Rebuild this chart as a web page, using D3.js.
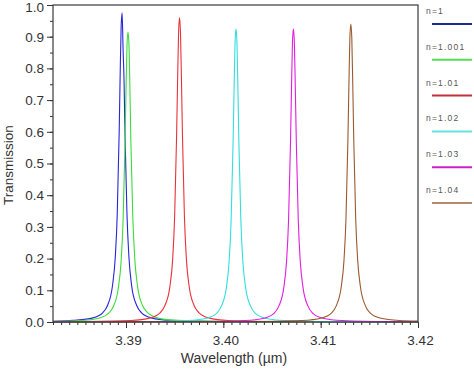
<!DOCTYPE html>
<html>
<head>
<meta charset="utf-8">
<script src="https://cdn.jsdelivr.net/npm/d3@7"></script>
<style>
  body { margin: 0; background: #fff; }
  svg { display: block; font-family: "Liberation Sans", Arial, sans-serif; }
</style>
</head>
<body>
<script>
// series labels and colours
var labels = ["n=1", "n=1.001", "n=1.01", "n=1.02", "n=1.03", "n=1.04"];
var colors = ["#2626dc", "#3cdc3c", "#e8323a", "#33dede", "#e01ee0", "#9a5a2e"];
var legendColors = ["#1c2a8c", "#55dd55", "#c4303c", "#66e2e2", "#cc22cc", "#b58a6a"];

// wavelength (um) / transmission pairs
var wl1 = [3.3825, 3.3846, 3.3866, 3.3876, 3.3881, 3.3886, 3.3889, 3.3891, 3.3893, 3.3894, 3.3895, 3.3896, 3.3897, 3.3898, 3.3899, 3.3901, 3.3903, 3.3906, 3.3911, 3.3916, 3.3926, 3.3946, 3.3996, 3.4200];
var tr1 = [0.002, 0.005, 0.013, 0.029, 0.052, 0.112, 0.205, 0.34, 0.60, 0.78, 0.93, 0.975, 0.86, 0.76, 0.59, 0.34, 0.205, 0.11, 0.052, 0.029, 0.013, 0.005, 0.0012, 0.0003];

var wl2 = [3.3825, 3.3852, 3.3872, 3.3882, 3.3887, 3.3892, 3.3895, 3.3897, 3.3899, 3.3900, 3.3901, 3.3902, 3.3903, 3.3904, 3.3905, 3.3907, 3.3909, 3.3912, 3.3917, 3.3922, 3.3932, 3.3952, 3.4002, 3.4200];
var tr2 = [0.002, 0.0045, 0.012, 0.027, 0.049, 0.105, 0.192, 0.32, 0.56, 0.73, 0.87, 0.915, 0.88, 0.74, 0.57, 0.33, 0.20, 0.11, 0.052, 0.03, 0.013, 0.005, 0.0012, 0.0003];

var wl3 = [3.3825, 3.3855, 3.3905, 3.3925, 3.3935, 3.3940, 3.3945, 3.3948, 3.3950, 3.3952, 3.3953, 3.3954, 3.3955, 3.3956, 3.3957, 3.3958, 3.3960, 3.3962, 3.3965, 3.3970, 3.3975, 3.3985, 3.4005, 3.4055, 3.4200];
var tr3 = [0.0005, 0.0012, 0.0048, 0.013, 0.029, 0.052, 0.11, 0.20, 0.335, 0.59, 0.76, 0.91, 0.960, 0.91, 0.76, 0.59, 0.335, 0.20, 0.11, 0.052, 0.029, 0.013, 0.0048, 0.0012, 0.0004];

var wl4 = [3.3825, 3.3913, 3.3963, 3.3983, 3.3993, 3.3998, 3.4003, 3.4006, 3.4008, 3.4010, 3.4011, 3.4012, 3.4013, 3.4014, 3.4015, 3.4016, 3.4018, 3.4020, 3.4023, 3.4028, 3.4033, 3.4043, 3.4063, 3.4113, 3.4200];
var tr4 = [0.0003, 0.0011, 0.0045, 0.012, 0.027, 0.05, 0.106, 0.193, 0.32, 0.565, 0.73, 0.88, 0.925, 0.88, 0.73, 0.565, 0.32, 0.193, 0.106, 0.05, 0.027, 0.012, 0.0045, 0.0011, 0.0005];

var wl5 = [3.3825, 3.3972, 3.4022, 3.4042, 3.4052, 3.4057, 3.4062, 3.4065, 3.4067, 3.4069, 3.4070, 3.4071, 3.4072, 3.4073, 3.4074, 3.4075, 3.4077, 3.4079, 3.4082, 3.4087, 3.4092, 3.4102, 3.4122, 3.4172, 3.4200];
var tr5 = [0.0003, 0.0011, 0.0045, 0.012, 0.027, 0.05, 0.106, 0.193, 0.32, 0.565, 0.73, 0.88, 0.925, 0.88, 0.73, 0.565, 0.32, 0.193, 0.106, 0.05, 0.027, 0.012, 0.0045, 0.0011, 0.0008];

var wl6 = [3.3825, 3.4031, 3.4081, 3.4101, 3.4111, 3.4116, 3.4121, 3.4124, 3.4126, 3.4128, 3.4129, 3.4130, 3.4131, 3.4132, 3.4133, 3.4134, 3.4136, 3.4138, 3.4141, 3.4146, 3.4151, 3.4161, 3.4181, 3.4200];
var tr6 = [0.0002, 0.0011, 0.0046, 0.0126, 0.028, 0.051, 0.108, 0.196, 0.325, 0.575, 0.745, 0.895, 0.94, 0.895, 0.745, 0.575, 0.325, 0.196, 0.108, 0.051, 0.028, 0.0126, 0.0046, 0.0028];

var xTicks = [3.39, 3.40, 3.41, 3.42];
var yTicks = [0.0, 0.1, 0.2, 0.3, 0.4, 0.5, 0.6, 0.7, 0.8, 0.9, 1.0];

var wls = [wl1, wl2, wl3, wl4, wl5, wl6];
var trs = [tr1, tr2, tr3, tr4, tr5, tr6];

var width = 474, height = 372;
var padL = 53, padR = 418, padT = 5, padB = 322;

var svg = d3.select("body").append("svg")
    .attr("width", width)
    .attr("height", height);

var x = d3.scaleLinear().domain([3.3825, 3.42]).range([padL, padR]);
var y = d3.scaleLinear().domain([0, 1]).range([padB, padT]);

//curves
var line = d3.line()
    .x(d => x(d[0]))
    .y(d => y(d[1]))
    .curve(d3.curveMonotoneX);

var plot = svg.append("g");
plot.append("defs").append("clipPath").attr("id", "clip")
    .append("rect").attr("x", padL).attr("y", padT - 2).attr("width", padR - padL).attr("height", padB - padT + 3);

wls.forEach(function(w, i) {
    var pts = w.map((v, j) => [v, trs[i][j]]);
    plot.append("path")
        .datum(pts)
        .attr("d", line)
        .attr("clip-path", "url(#clip)")
        .style("fill", "none")
        .style("stroke", colors[i])
        .style("stroke-width", 1.1);
});

//AXES
var xMinor = d3.range(0, 49).map(i => 3.3825 + i * (0.01 / 12)).filter(v => v <= 3.42001);
var gx = svg.append("g")
    .attr("transform", "translate(0," + padB + ")")
    .call(d3.axisBottom(x).tickValues(xMinor).tickSize(3).tickFormat(""));
gx.select(".domain").remove();
gx.selectAll("line").style("stroke", "#333");

var gx2 = svg.append("g")
    .attr("transform", "translate(0," + padB + ")")
    .call(d3.axisBottom(x).tickValues(xTicks).tickSize(6).tickPadding(7).tickFormat(d3.format(".2f")));
gx2.select(".domain").remove();
gx2.selectAll("line").style("stroke", "#333");
gx2.selectAll("text").style("font-size", "13.5px").style("fill", "#333").attr("dx", 2);

var yMinor = d3.range(0, 21).map(i => i * 0.05);
var gy = svg.append("g")
    .attr("transform", "translate(" + padL + ",0)")
    .call(d3.axisLeft(y).tickValues(yMinor).tickSize(3).tickFormat(""));
gy.select(".domain").remove();
gy.selectAll("line").style("stroke", "#333");

var gy2 = svg.append("g")
    .attr("transform", "translate(" + padL + ",0)")
    .call(d3.axisLeft(y).tickValues(yTicks).tickSize(6).tickPadding(3).tickFormat(d3.format(".1f")));
gy2.select(".domain").remove();
gy2.selectAll("line").style("stroke", "#333");
gy2.selectAll("text").style("font-size", "13.5px").style("fill", "#333")
    .attr("dy", d => d === 1 ? "0.5em" : "0.32em"); // keep top label inside the page

//frame
svg.append("rect")
    .attr("x", padL).attr("y", padT)
    .attr("width", padR - padL).attr("height", padB - padT)
    .style("fill", "none")
    .style("stroke", "#3a3a3a")
    .style("stroke-width", 1.2);

//axis titles
svg.append("text")
    .text("Wavelength (\u00b5m)")
    .attr("x", 234).attr("y", 363)
    .attr("text-anchor", "middle")
    .style("font-size", "14px")
    .style("fill", "#333");

svg.append("text")
    .text("Transmission")
    .attr("transform", "translate(13,165) rotate(-90)")
    .attr("text-anchor", "middle")
    .style("font-size", "13.5px")
    .style("fill", "#333");

//legend
var lg = svg.append("g").selectAll("g").data(labels)
    .enter()
    .append("g")
    .attr("transform", (d, i) => "translate(0," + (24 + i * 35.8) + ")");
lg.append("text")
    .text(d => d)
    .attr("x", 426).attr("y", -10)
    .style("font-size", "8.5px")
    .style("letter-spacing", "1.2px")
    .style("fill", "#555");
lg.append("line")
    .attr("x1", 432).attr("x2", 472)
    .attr("y1", 0).attr("y2", 0)
    .style("stroke", (d, i) => legendColors[i])
    .style("stroke-width", 2);
</script>
</body>
</html>
